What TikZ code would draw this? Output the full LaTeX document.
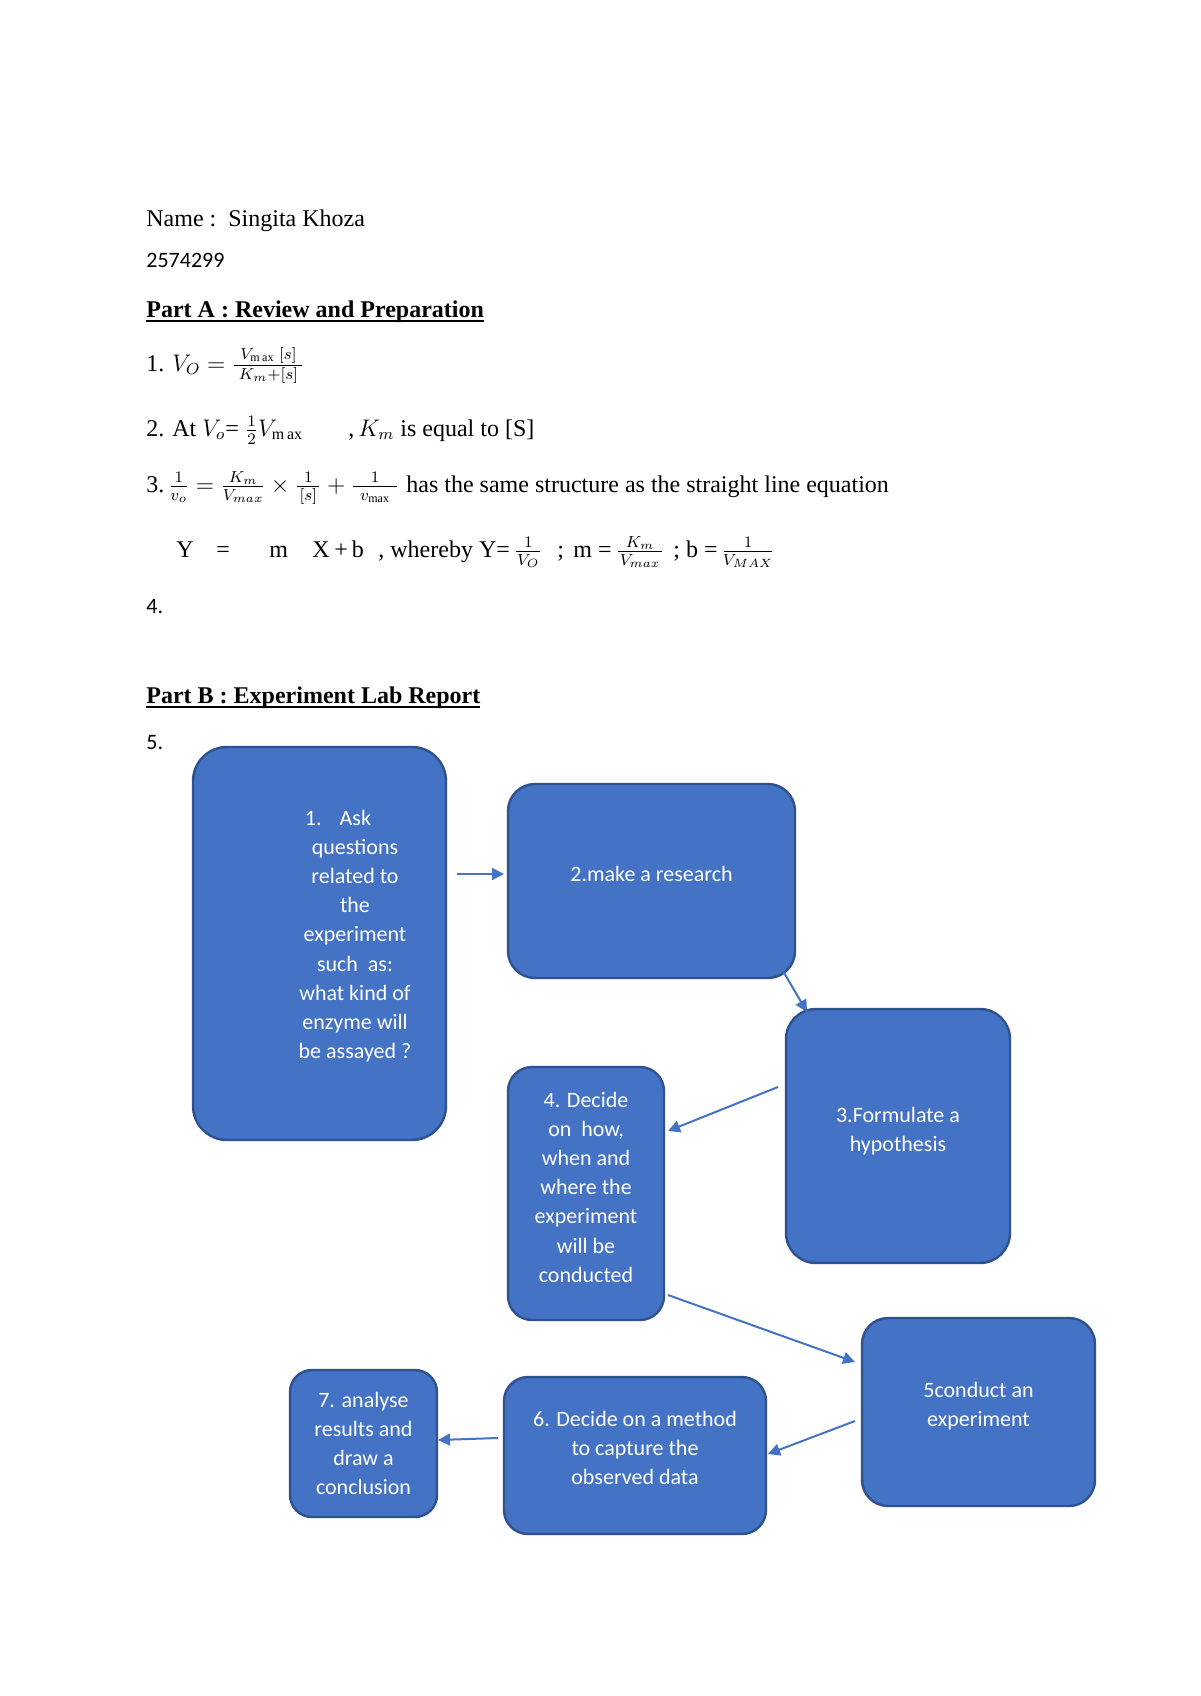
\documentclass[tikz,border=0pt]{standalone}
\usepackage{fontspec}
\setmainfont{Liberation Serif}
\newfontfamily\calibri{Carlito}
\usetikzlibrary{arrows.meta}
\definecolor{boxblue}{HTML}{4472C4}
\definecolor{boxedge}{HTML}{2F528F}
\newcommand\wf[3]{\frac{\makebox[#1]{$\scriptstyle #2$}}{\makebox[#1]{$\scriptstyle #3$}}}
\newcommand\myul[1]{\setbox0=\hbox{#1}\rlap{\rule[-2.6pt]{\wd0}{1.1pt}}\box0}
\newcommand\dn[1]{\rule[-#1]{0pt}{#1}}
\begin{document}
\begin{tikzpicture}[x=0.5pt,y=-0.5pt,
  txt/.style={inner sep=0pt, anchor=base west, font=\fontsize{12}{14}\selectfont},
  btxt/.style={inner sep=0pt, anchor=base west, font=\fontsize{12}{14}\selectfont\bfseries},
  stxt/.style={inner sep=0pt, anchor=base west, font=\calibri\fontsize{11}{13}\selectfont},
  flow/.style={draw=boxedge, line width=1.2pt, fill=boxblue, text=white, align=center,
    font=\calibri\fontsize{11}{14.6}\selectfont, inner sep=0pt},
  flowtext/.style={text=white, align=center, font=\calibri\fontsize{11}{14.6}\selectfont, inner sep=0pt},
  arr/.style={draw=boxblue, line width=1pt, -{Triangle[length=6pt,width=6pt]}}]
\useasboundingbox (0,0) rectangle (1200,1696);
\fill[white] (0,0) rectangle (1200,1696);

% header text
\node[txt] (name) at (146,227) {Name :\ \ Singita Khoza};
\node[stxt] (id) at (146,268) {2574299};
\node[btxt] (pa) at (146,317) {\myul{Part A : Review and Preparation}};

\node[txt] (q1) at (146,371) {1. $V_O = \wf{34pt}{V_{\mathrm{m\,ax}}\;[s]}{K_m+[s]}$};

\node[txt] (q2a) at (146,436) {2. At $V_o$= $\frac{1}{2}V_{\mathrm{m\,ax}}$};
\node[txt] (q2b) at (348,436) {,\,$K_m$ is equal to [S]};

\node[txt] (q3a) at (146,492) {3.\,$\wf{8pt}{1}{v_o} = \wf{20pt}{K_m}{V_{max}} \times \wf{11pt}{1}{[s]} + \wf{22pt}{1}{v_{\mathrm{max}}}$};
\node[txt] (q3b) at (406,492) {has the same structure as the straight line equation};

\node[txt] (y1) at (176,557) {Y};
\node[txt] (y2) at (216,557) {=};
\node[txt] (y3) at (269,557) {m};
\node[txt] (y4) at (312,557) {X};
\node[txt] (y5) at (334,557) {+\,b};
\node[txt] (y6) at (378,557) {, whereby Y=\,$\wf{12pt}{1}{V_O}$};
\node[txt] (y7) at (557,557) {;};
\node[txt] (y8) at (573,557) {m =\,$\wf{22pt}{K_m}{V_{max}}$};
\node[txt] (y9) at (673,557) {; b =\,$\wf{24pt}{1}{V_{MAX}}$};

\node[stxt] (n4) at (146,613) {4.};
\node[btxt] (pb) at (146,703) {\myul{Part B : Experiment Lab Report}};
\node[stxt] (n5) at (146,749) {5.};

% flow boxes
\node[flow, minimum width=126.5pt, minimum height=196.5pt, rounded corners=17pt] (b1) at (319.5,943.5) {};
\node[flowtext] (t1) at (355,936) {1.\hspace{9pt}Ask\rule{17pt}{0pt}\\questions\\related to\\the\\experiment\\such\ \ as:\\what kind of\\enzyme will\\be assayed ?};
\node[flow, minimum width=143.5pt, minimum height=97pt, rounded corners=13.5pt] (b2) at (651.5,881) {2.make a research\dn{7.6pt}};
\node[flow, minimum width=112pt, minimum height=127pt, rounded corners=15pt] (b3) at (898,1136) {3.Formulate a\\hypothesis\dn{6.9pt}};
\node[flow, minimum width=78pt, minimum height=126.5pt, rounded corners=12pt] (b4) at (586,1193.5) {4. Decide\\on\ \ how,\\when and\\where the\\experiment\\will be\\conducted\dn{6.5pt}};
\node[flow, minimum width=116.5pt, minimum height=94pt, rounded corners=13pt] (b5) at (978.5,1412) {5conduct an\\experiment\dn{7.9pt}};
\node[flow, minimum width=131pt, minimum height=78.5pt, rounded corners=12pt] (b6) at (635,1455.5) {6. Decide on a method\\to capture the\\observed data\dn{7.6pt}};
\node[flow, minimum width=73.5pt, minimum height=73.5pt, rounded corners=11pt] (b7) at (363.5,1443.5) {7. analyse\\results and\\draw a\\conclusion};

% arrow end points
\coordinate (s12) at (457,874);  \coordinate (e12) at (504,874);
\coordinate (s23) at (783,971);  \coordinate (e23) at (807,1012);
\coordinate (s34) at (778,1087); \coordinate (e34) at (668,1131);
\coordinate (s45) at (668,1295); \coordinate (e45) at (855,1362);
\coordinate (s56) at (855,1421); \coordinate (e56) at (768,1454);
\coordinate (s67) at (498,1438); \coordinate (e67) at (438,1440);

\draw[arr] (s12) -- (e12);
\draw[arr] (s23) -- (e23);
\draw[arr] (s34) -- (e34);
\draw[arr] (s45) -- (e45);
\draw[arr] (s56) -- (e56);
\draw[arr] (s67) -- (e67);
\end{tikzpicture}
\end{document}
